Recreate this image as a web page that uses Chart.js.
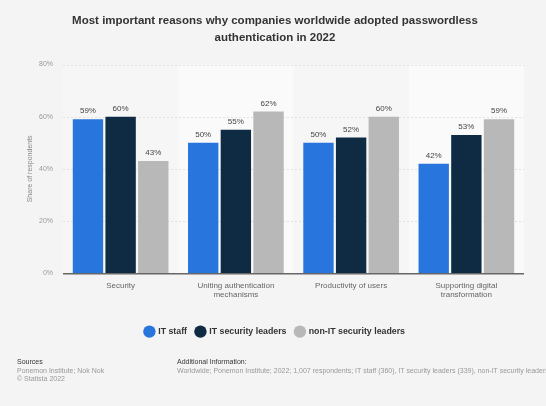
<!DOCTYPE html>
<html>
<head>
<meta charset="utf-8">
<script src="https://cdn.jsdelivr.net/npm/chart.js@4.4.0/dist/chart.umd.min.js"></script>
<style>
html,body{margin:0;padding:0;background:#f4f4f4;}
#wrap{position:relative;width:546px;height:406px;overflow:hidden;font-family:"Liberation Sans",Arial,sans-serif;}
canvas{position:absolute;left:0;top:0;}
.ft{position:absolute;font-size:7px;line-height:8.6px;white-space:nowrap;}
.h{color:#333;}
.g{color:#999;}
</style>
</head>
<body>
<div id="wrap">
<canvas id="c" width="546" height="406"></canvas>
<div class="ft" style="left:17px;top:358px;"><span class="h">Sources</span><br><span class="g">Ponemon Institute; Nok Nok<br>© Statista 2022</span></div>
<div class="ft" style="left:177px;top:358px;"><span class="h">Additional Information:</span><br><span class="g">Worldwide; Ponemon Institute; 2022; 1,007 respondents; IT staff (360), IT security leaders (339), non-IT security leaders (308)</span></div>
</div>
<script>
const categories = [["Security"], ["Uniting authentication", "mechanisms"], ["Productivity of users"], ["Supporting digital", "transformation"]];
const itStaff = [59, 50, 50, 42];
const itSecurityLeaders = [60, 55, 52, 53];
const nonItSecurityLeaders = [43, 62, 60, 59];
const seriesNames = ["IT staff", "IT security leaders", "non-IT security leaders"];
const yTicks = [0, 20, 40, 60, 80];

const FONT = '"Liberation Sans", Arial, sans-serif';

const bandPlugin = {
  id: 'bands',
  beforeDatasetsDraw(chart) {
    const {ctx, chartArea, scales} = chart;
    const n = categories.length;
    const w = (chartArea.right - chartArea.left) / n;
    ctx.save();
    for (let i = 0; i < n; i++) {
      ctx.fillStyle = i % 2 === 0 ? '#f6f6f6' : '#fafafa';
      ctx.fillRect(chartArea.left + i * w, chartArea.top, w, chartArea.bottom - chartArea.top);
    }
    ctx.strokeStyle = '#e2e2e2';
    ctx.lineWidth = 1;
    ctx.setLineDash([2, 2]);
    const y = scales.y;
    yTicks.forEach(v => {
      if (v === 0) return;
      const py = Math.round(y.getPixelForValue(v)) + 0.5;
      ctx.beginPath();
      ctx.moveTo(chartArea.left, py);
      ctx.lineTo(chartArea.right, py);
      ctx.stroke();
    });
    ctx.restore();
  },
  afterDatasetsDraw(chart) {
    const {ctx, chartArea} = chart;
    ctx.save();
    ctx.strokeStyle = '#666';
    ctx.lineWidth = 1.5;
    ctx.beginPath();
    ctx.moveTo(chartArea.left, chartArea.bottom + 0.5);
    ctx.lineTo(chartArea.right, chartArea.bottom + 0.5);
    ctx.stroke();
    ctx.fillStyle = '#444';
    ctx.font = '8px ' + FONT;
    ctx.textAlign = 'center';
    ctx.textBaseline = 'bottom';
    chart.data.datasets.forEach((ds, di) => {
      const meta = chart.getDatasetMeta(di);
      meta.data.forEach((bar, i) => {
        ctx.fillText(ds.data[i] + '%', bar.x, bar.y - 4);
      });
    });
    ctx.restore();
  }
};

new Chart(document.getElementById('c'), {
  type: 'bar',
  data: {
    labels: categories,
    datasets: [
      {label: seriesNames[0], data: itStaff, backgroundColor: '#2876dd'},
      {label: seriesNames[1], data: itSecurityLeaders, backgroundColor: '#0f2a43'},
      {label: seriesNames[2], data: nonItSecurityLeaders, backgroundColor: '#b8b8b8'}
    ]
  },
  options: {
    responsive: false,
    animation: false,
    devicePixelRatio: 1,
    layout: {padding: {left: 26, right: 22, top: 0, bottom: 60}},
    datasets: {bar: {categoryPercentage: 0.85, barPercentage: 0.93}},
    plugins: {
      title: {
        display: true,
        text: ['Most important reasons why companies worldwide adopted passwordless', 'authentication in 2022'],
        color: '#333',
        font: {family: FONT, size: 11.5, weight: 'bold', lineHeight: 1.5},
        padding: {top: 12, bottom: 18}
      },
      legend: {
        position: 'bottom',
        labels: {
          usePointStyle: true,
          pointStyle: 'circle',
          boxWidth: 9, boxHeight: 9,
          color: '#333',
          font: {family: FONT, size: 8.8, weight: 'bold'},
          padding: 9
        }
      },
      tooltip: {enabled: false}
    },
    scales: {
      x: {
        grid: {display: false, drawTicks: false},
        border: {display: false},
        ticks: {color: '#666', font: {family: FONT, size: 8, lineHeight: 1.1}, padding: 8, maxRotation: 0, autoSkip: false},
        afterFit(s) { s.height = 45; }
      },
      y: {
        min: 0, max: 80,
        afterBuildTicks(s) { s.ticks = yTicks.map(v => ({value: v})); },
        grid: {display: false, drawTicks: false},
        border: {display: false},
        ticks: {color: '#999', font: {family: FONT, size: 7}, padding: 10, callback: v => v + '%'},
        title: {display: true, text: 'Share of respondents', color: '#888', font: {family: FONT, size: 7}, padding: {top: 0, bottom: 2}},
        afterFit(s) { s.width = 37; }
      }
    }
  },
  plugins: [bandPlugin]
});
</script>
</body>
</html>
